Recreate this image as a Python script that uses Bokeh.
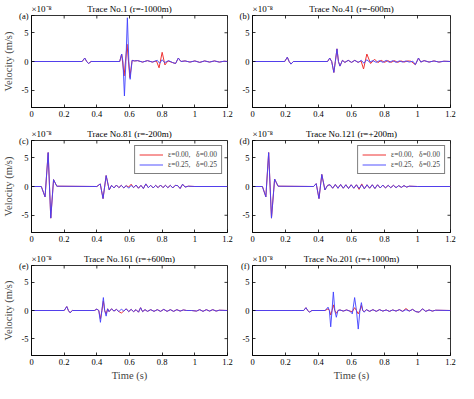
import math
from bokeh.plotting import figure
from bokeh.models import Range1d, FixedTicker, LinearAxis, Legend, LegendItem
from bokeh.layouts import column, row
from bokeh.embed import file_html
from bokeh.resources import INLINE

FONT = "Liberation Serif"

X_MIN, X_MAX = 0, 1.2
Y_MIN, Y_MAX = -8, 8
x_ticks = [0, 0.2, 0.4, 0.6, 0.8, 1.0, 1.2]
x_tick_labels = ["0", "0.2", "0.4", "0.6", "0.8", "1", "1.2"]
y_ticks = [-5, 0, 5]
y_tick_labels = ["-5", "0", "5"]

panel_tags = ["(a)", "(b)", "(c)", "(d)", "(e)", "(f)"]
panel_titles = ["Trace No.1 (r=-1000m)", "Trace No.41 (r=-600m)", "Trace No.81 (r=-200m)",
                "Trace No.121 (r=+200m)", "Trace No.161 (r=+600m)", "Trace No.201 (r=+1000m)"]
series_labels = ["\u03b5=0.00,   \u03b4=0.00", "\u03b5=0.25,   \u03b4=0.25"]
exponent_label = "\u00d710\u207b\u2078"

# ---- Trace No.1 ----
red_a_t = [0, 0.31, 0.326, 0.338, 0.349, 0.365, 0.54, 0.552, 0.567, 0.585, 0.602, 0.616, 0.630,
           0.65, 0.68, 0.71, 0.74, 0.765, 0.781, 0.80, 0.817, 0.835, 0.865, 0.882, 0.899, 0.915,
           0.94, 0.97, 1.00, 1.03, 1.06, 1.09, 1.12, 1.15, 1.18, 1.2]
red_a_v = [0, 0, 0.6, 0.0, -0.35, 0, 0, 1.3, -2.5, 3.0, -2.8, 0.2, 0.1,
           0.15, -0.1, 0.15, -0.1, 0.1, -1.1, 1.6, -0.6, 0.1, -0.2, -0.35, 0.6, 0,
           0.1, -0.1, 0.1, -0.15, 0.1, -0.1, 0.1, -0.1, 0.05, 0]
blue_a_t = [0, 0.31, 0.326, 0.338, 0.349, 0.365, 0.54, 0.552, 0.560, 0.569, 0.578, 0.587, 0.596,
            0.604, 0.616, 0.630, 0.65, 0.68, 0.71, 0.74, 0.77, 0.785, 0.80, 0.815, 0.84, 0.865,
            0.882, 0.899, 0.915, 0.94, 0.97, 1.00, 1.03, 1.06, 1.09, 1.12, 1.15, 1.18, 1.2]
blue_a_v = [0, 0, 0.6, 0.0, -0.35, 0, 0, 1.3, 0, -6.0, 0, 7.6, 0,
            -3.1, 0.2, 0.1, 0.15, -0.1, 0.15, -0.1, 0.2, -0.3, 0.3, -0.2, 0.15, -0.2,
            -0.35, 0.6, 0, 0.1, -0.1, 0.1, -0.15, 0.1, -0.1, 0.1, -0.1, 0.05, 0]

# ---- Trace No.41 ----
red_b_t = [0, 0.195, 0.211, 0.222, 0.233, 0.248, 0.455, 0.468, 0.48, 0.493, 0.502, 0.512, 0.521,
           0.530, 0.545, 0.56, 0.58, 0.60, 0.62, 0.64, 0.658, 0.673, 0.693, 0.716, 0.74, 0.76,
           0.78, 0.80, 0.82, 0.84, 0.86, 0.88, 0.90, 0.92, 0.94, 0.96, 0.987, 1.006, 1.02, 1.04,
           1.07, 1.10, 1.13, 1.16, 1.2]
red_b_v = [0, 0, 0.75, 0, -0.45, 0, 0, 0.6, 0, -1.9, 0, 2.2, 0,
           -0.8, 0.2, -0.15, 0.2, -0.15, 0.2, -0.15, 0.1, -1.3, 1.3, -0.35, 0.4, -0.2,
           0.2, -0.15, 0.15, -0.15, 0.15, -0.15, 0.1, -0.1, 0.1, 0.05, -0.55, 0.6, -0.1, 0.15,
           -0.1, 0.1, -0.1, 0.05, 0]
blue_b_t = [0, 0.195, 0.211, 0.222, 0.233, 0.248, 0.455, 0.468, 0.48, 0.493, 0.502, 0.512, 0.521,
            0.530, 0.545, 0.56, 0.58, 0.60, 0.62, 0.64, 0.66, 0.675, 0.692, 0.71, 0.73, 0.75,
            0.77, 0.79, 0.81, 0.83, 0.85, 0.87, 0.89, 0.91, 0.93, 0.95, 0.972, 0.987, 1.006, 1.02,
            1.04, 1.07, 1.10, 1.13, 1.16, 1.2]
blue_b_v = [0, 0, 0.75, 0, -0.45, 0, 0, 0.6, 0, -1.9, 0, 2.2, 0,
            -0.8, 0.2, -0.15, 0.2, -0.15, 0.2, -0.15, 0.2, -0.3, 0.3, -0.1, 0.15, -0.15,
            0.15, -0.15, 0.2, -0.15, 0.15, -0.15, 0.1, -0.1, 0.1, -0.1, 0.05, -0.55, 0.6, -0.1,
            0.15, -0.1, 0.1, -0.1, 0.05, 0]

# ---- Trace No.81 ----
red_c_t = [0, 0.06, 0.083, 0.102, 0.118, 0.135, 0.155, 0.40, 0.421, 0.438, 0.457, 0.476,
           0.49, 0.505, 0.52, 0.535, 0.55, 0.565, 0.58, 0.595, 0.61, 0.625, 0.64, 0.655, 0.67,
           0.685, 0.70, 0.715, 0.73, 0.745, 0.76, 0.775, 0.79, 0.805, 0.82, 0.835, 0.85, 0.865,
           0.88, 0.895, 0.91, 0.925, 0.94, 0.96, 1.0, 1.2]
red_c_v = [0, 0, -1.8, 5.9, -5.5, 1.2, 0.05, 0, 0.45, -2.1, 1.9, -0.6,
           0.2, -0.25, 0.25, -0.2, 0.2, -0.25, 0.15, -0.1, 0.4, -0.2, 0.25, -0.3, 0.2,
           -0.35, 0.45, -0.2, 0.2, -0.25, 0.2, -0.2, 0.25, -0.2, 0.2, -0.2, 0.2, -0.25,
           0.2, 0.15, -0.35, 0.4, -0.1, 0.05, 0, 0]
blue_c_t = [0, 0.06, 0.083, 0.102, 0.118, 0.135, 0.155, 0.40, 0.421, 0.438, 0.457, 0.476,
            0.49, 0.505, 0.52, 0.535, 0.55, 0.565, 0.58, 0.595, 0.61, 0.625, 0.64, 0.655, 0.67,
            0.685, 0.70, 0.715, 0.73, 0.745, 0.76, 0.775, 0.79, 0.805, 0.82, 0.835, 0.85, 0.865,
            0.88, 0.895, 0.91, 0.925, 0.94, 0.96, 1.0, 1.2]
blue_c_v = [0, 0, -1.8, 5.9, -5.5, 1.2, 0.05, 0, 0.45, -2.1, 1.9, -0.6,
            0.2, -0.25, 0.25, -0.2, 0.2, -0.25, 0.15, -0.3, 0.2, -0.2, 0.25, -0.3, 0.2,
            -0.35, 0.45, -0.2, 0.2, -0.25, 0.2, -0.2, 0.25, -0.2, 0.2, -0.2, 0.2, -0.25,
            0.2, 0.15, -0.35, 0.4, -0.1, 0.05, 0, 0]

# ---- Trace No.121 ----
red_d_t = [0, 0.06, 0.081, 0.098, 0.115, 0.134, 0.155, 0.37, 0.386, 0.403, 0.42, 0.439, 0.455,
           0.47, 0.486, 0.502, 0.518, 0.534, 0.55, 0.566, 0.582, 0.598, 0.614, 0.63, 0.646,
           0.662, 0.678, 0.694, 0.71, 0.726, 0.742, 0.758, 0.774, 0.79, 0.806, 0.822, 0.838,
           0.854, 0.87, 0.886, 0.902, 0.918, 0.934, 0.95, 1.0, 1.2]
red_d_v = [0, 0, -1.8, 5.9, -5.5, 1.3, 0.05, 0, 0.5, -2.1, 2.1, -0.6, 0.2,
           0.3, -0.3, 0.35, -0.3, 0.35, -0.3, 0.3, -0.35, 0.3, -0.3, 0.3, -0.5,
           0.45, -0.4, 0.3, -0.3, 0.3, -0.35, 0.3, -0.25, 0.25, -0.25, 0.2, -0.2,
           0.2, -0.2, 0.15, -0.15, 0.15, -0.1, 0.05, 0, 0]
blue_d_t = [0, 0.06, 0.081, 0.098, 0.115, 0.134, 0.155, 0.37, 0.386, 0.403, 0.42, 0.439, 0.455,
            0.47, 0.486, 0.502, 0.518, 0.534, 0.55, 0.566, 0.582, 0.598, 0.614, 0.63, 0.646,
            0.662, 0.678, 0.694, 0.71, 0.726, 0.742, 0.758, 0.774, 0.79, 0.806, 0.822, 0.838,
            0.854, 0.87, 0.886, 0.902, 0.918, 0.934, 0.95, 1.0, 1.2]
blue_d_v = [0, 0, -1.8, 5.9, -5.5, 1.3, 0.05, 0, 0.5, -2.1, 2.1, -0.6, 0.2,
            0.3, -0.3, 0.35, -0.3, 0.35, -0.3, 0.3, -0.35, 0.3, -0.3, 0.3, -0.35,
            0.3, -0.4, 0.3, -0.3, 0.3, -0.35, 0.3, -0.25, 0.25, -0.25, 0.2, -0.2,
            0.2, -0.2, 0.15, -0.15, 0.15, -0.1, 0.05, 0, 0]

# ---- Trace No.161 ----
red_e_t = [0, 0.20, 0.216, 0.226, 0.236, 0.25, 0.385, 0.40, 0.412, 0.422, 0.431, 0.440, 0.448,
           0.457, 0.466, 0.475, 0.49, 0.505, 0.52, 0.535, 0.55, 0.565, 0.58, 0.595, 0.61, 0.625,
           0.64, 0.655, 0.668, 0.68, 0.695, 0.71, 0.73, 0.75, 0.77, 0.79, 0.81, 0.83, 0.85,
           0.87, 0.89, 0.91, 0.93, 0.95, 0.98, 1.01, 1.03, 1.05, 1.07, 1.09, 1.11, 1.13, 1.15, 1.2]
red_e_v = [0, 0, 0.7, 0, -0.4, 0, 0, 0.25, 0, -1.5, 0, 1.7, 0,
           -0.6, 0.3, -0.2, 0.3, -0.1, 0.2, -0.2, -0.45, -0.1, 0.3, -0.2, 0.2, -0.2,
           0.15, -0.3, 0.5, -0.2, 0.15, -0.15, 0.15, -0.15, 0.15, -0.15, 0.2, -0.15, 0.15,
           -0.15, 0.15, -0.1, 0.1, 0, 0, -0.1, 0.15, -0.15, 0.15, -0.1, 0.15, -0.1, 0.05, 0]
blue_e_t = [0, 0.20, 0.216, 0.226, 0.236, 0.25, 0.385, 0.40, 0.412, 0.422, 0.431, 0.440, 0.448,
            0.457, 0.466, 0.475, 0.49, 0.505, 0.52, 0.535, 0.55, 0.565, 0.58, 0.595, 0.61, 0.625,
            0.64, 0.655, 0.668, 0.68, 0.695, 0.71, 0.73, 0.75, 0.77, 0.79, 0.81, 0.83, 0.85,
            0.87, 0.89, 0.91, 0.93, 0.95, 0.98, 1.01, 1.03, 1.05, 1.07, 1.09, 1.11, 1.13, 1.15, 1.2]
blue_e_v = [0, 0, 0.7, 0, -0.4, 0, 0, 0.25, 0, -2.1, 0, 2.3, 0,
            -1.0, 0.3, -0.2, 0.3, -0.1, 0.2, -0.2, 0.25, -0.1, 0.3, -0.2, 0.2, -0.2,
            0.15, -0.3, 0.5, -0.2, 0.15, -0.15, 0.15, -0.15, 0.15, -0.15, 0.2, -0.15, 0.15,
            -0.15, 0.15, -0.1, 0.1, 0, 0, -0.1, 0.15, -0.15, 0.15, -0.1, 0.15, -0.1, 0.05, 0]

# ---- Trace No.201 ----
red_f_t = [0, 0.31, 0.324, 0.335, 0.345, 0.36, 0.44, 0.458, 0.466, 0.474, 0.482, 0.49, 0.499,
           0.508, 0.518, 0.53, 0.55, 0.57, 0.59, 0.605, 0.619, 0.63, 0.641, 0.651, 0.66, 0.668,
           0.677, 0.69, 0.71, 0.73, 0.75, 0.77, 0.79, 0.81, 0.83, 0.85, 0.87, 0.89, 0.91, 0.93,
           0.95, 0.97, 0.99, 1.01, 1.03, 1.05, 1.07, 1.09, 1.11, 1.2]
red_f_v = [0, 0, 0.5, 0, -0.3, 0, 0, 0.3, 0, -0.8, 0, 1.0, 0,
           -0.5, 0, 0.1, -0.1, 0.1, -0.1, -0.2, 0.5, 0, -0.6, 0, 0.9, 0,
           -0.2, 0.15, -0.15, 0.15, -0.15, 0.15, -0.1, 0.1, -0.15, 0.1, -0.1, 0.15, -0.15, 0.35,
           -0.1, 0.2, -0.2, -0.3, 0.3, -0.15, 0.1, -0.1, 0.05, 0]
blue_f_t = [0, 0.31, 0.324, 0.335, 0.345, 0.36, 0.44, 0.458, 0.466, 0.474, 0.482, 0.49, 0.499,
            0.508, 0.518, 0.53, 0.55, 0.57, 0.59, 0.605, 0.619, 0.63, 0.641, 0.651, 0.66, 0.668,
            0.677, 0.69, 0.71, 0.73, 0.75, 0.77, 0.79, 0.81, 0.83, 0.85, 0.87, 0.89, 0.91, 0.93,
            0.95, 0.97, 0.99, 1.01, 1.03, 1.05, 1.07, 1.09, 1.11, 1.2]
blue_f_v = [0, 0, 0.5, 0, -0.3, 0, 0, 0.6, 0, -2.9, 0, 3.3, 0,
            -1.2, 0, 0.1, -0.1, 0.1, -0.1, -0.6, 2.3, 0, -3.3, 0, 1.4, 0,
            -0.3, 0.15, -0.15, 0.15, -0.15, 0.15, -0.1, 0.1, -0.15, 0.1, -0.1, 0.15, -0.15, 0.15,
            -0.1, 0.2, -0.2, -0.3, 0.3, -0.15, 0.1, -0.1, 0.05, 0]

RED = "#ee3333"
BLUE = "#4040ff"

FRAME_W = 198
FRAME_H = 94
# where the header texts sit along the top edge (data x of their centres)
EXP_X = 0.062
TITLE_X = (X_MIN + X_MAX) / 2


def style_axis(ax, ticks, labels, size="8.5px", standoff=3):
    ax.ticker = FixedTicker(ticks=ticks)
    ax.minor_tick_line_color = None
    ax.major_tick_in = 3
    ax.major_tick_out = 0
    ax.axis_line_color = "black"
    ax.axis_line_width = 0.8
    ax.major_tick_line_width = 0.8
    ax.major_label_text_font = FONT
    ax.major_label_text_color = "black"
    ax.axis_label_text_font = FONT
    ax.axis_label_text_font_style = "normal"
    ax.axis_label_text_font_size = "10.5px"
    ax.axis_label_standoff = 2
    ax.major_label_overrides = dict(zip(ticks, labels))
    ax.major_label_text_font_size = size
    ax.major_label_standoff = standoff


def make_panel(idx, rt, rv, bt, bv):
    col = idx % 2
    rw = idx // 2
    left = 29 if col == 0 else 17
    right = 8
    top = 13
    bottom = 18 if rw < 2 else 26
    width = left + FRAME_W + right
    height = top + FRAME_H + bottom
    p = figure(width=width, height=height,
               x_range=Range1d(X_MIN, X_MAX), y_range=Range1d(Y_MIN, Y_MAX),
               output_backend="svg", toolbar_location=None,
               min_border_left=left, min_border_right=right,
               min_border_top=top, min_border_bottom=bottom,
               title=None)
    p.grid.visible = False
    p.outline_line_color = "black"
    p.outline_line_width = 0.8
    p.background_fill_color = "white"
    p.border_fill_color = "white"

    style_axis(p.xaxis[0], x_ticks, x_tick_labels)
    # the panel tag sits beside the top-left corner, as a label of the y axis at its upper end
    style_axis(p.yaxis[0], y_ticks + [Y_MAX], y_tick_labels + [panel_tags[idx]])
    if col == 0:
        p.yaxis[0].axis_label = "Velocity (m/s)"
    if rw == 2:
        p.xaxis[0].axis_label = "Time (s)"

    # header row above the frame: exponent at the left, trace title centred
    head = LinearAxis()
    style_axis(head, [EXP_X, TITLE_X], [exponent_label, panel_titles[idx]], size="9px", standoff=2)
    head.major_tick_in = 0
    head.axis_line_color = None
    head.major_tick_line_color = None
    p.add_layout(head, "above")

    # mirrored inward ticks on the top and right edges (half of each dash is clipped by the frame)
    p.scatter(x=x_ticks, y=[Y_MAX] * len(x_ticks), marker="dash", size=6, angle=math.pi / 2,
              line_color="black", line_width=0.8)
    p.scatter(x=[X_MAX] * len(y_ticks), y=y_ticks, marker="dash", size=6,
              line_color="black", line_width=0.8)

    r_red = p.line(rt, rv, line_color=RED, line_width=1.0)
    r_blue = p.line(bt, bv, line_color=BLUE, line_width=1.0, line_alpha=0.9)

    if idx in (2, 3):
        legend = Legend(items=[LegendItem(label=series_labels[0], renderers=[r_red]),
                               LegendItem(label=series_labels[1], renderers=[r_blue])],
                        location="top_right")
        legend.label_text_font = FONT
        legend.label_text_font_size = "7.5px"
        legend.glyph_width = 24
        legend.glyph_height = 9
        legend.label_height = 9
        legend.label_standoff = 5
        legend.spacing = 1
        legend.padding = 4
        legend.margin = 5
        legend.border_line_color = "black"
        legend.border_line_width = 0.8
        legend.background_fill_alpha = 1
        p.add_layout(legend)
    return p


data = [
    (red_a_t, red_a_v, blue_a_t, blue_a_v),
    (red_b_t, red_b_v, blue_b_t, blue_b_v),
    (red_c_t, red_c_v, blue_c_t, blue_c_v),
    (red_d_t, red_d_v, blue_d_t, blue_d_v),
    (red_e_t, red_e_v, blue_e_t, blue_e_v),
    (red_f_t, red_f_v, blue_f_t, blue_f_v),
]
panels = [make_panel(i, *d) for i, d in enumerate(data)]

layout = column(row(panels[0], panels[1]), row(panels[2], panels[3]), row(panels[4], panels[5]))

open("out.html", "w").write(file_html(layout, INLINE))
